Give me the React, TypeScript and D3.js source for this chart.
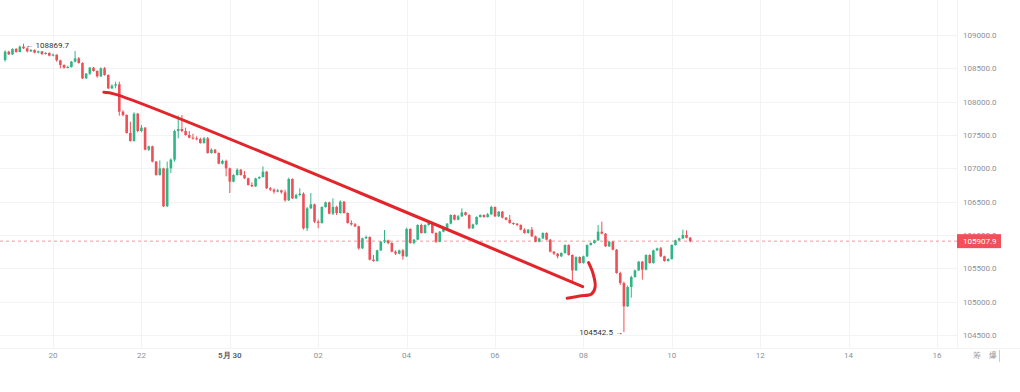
import * as d3 from 'd3';
import React from 'react';

// 5-minute candles, first one at 18:55 on May 29
const startTime = new Date(2025, 4, 29, 18, 55);
const stepMinutes = 5;

const opens = [
  108625, 108750, 108710, 108790, 108745, 108825, 108800, 108755, 108775, 108735, 108755, 108715, 108730, 108690, 108705, 108620,
  108550, 108510, 108520, 108600, 108650, 108580, 108350, 108420, 108510, 108460, 108380, 108500, 108400, 108200, 108240, 108260,
  107850, 107800, 107530, 107410, 107820, 107560, 107610, 107280, 107330, 107100, 106900, 107000, 106430, 107000, 107130, 107560,
  107590, 107560, 107500, 107460, 107450, 107440, 107380, 107450, 107230, 107280, 107230, 107070, 107110, 107000, 106800, 106900,
  106980, 106900, 106850, 106750, 106730, 106850, 106870, 106950, 106700, 106680, 106650, 106670, 106640, 106520, 106840, 106550,
  106600, 106620, 106100, 106400, 106460, 106200, 106180, 106420, 106490, 106320, 106420, 106330, 106500, 106330, 106180, 106160,
  106130, 105800, 105950, 105970, 105630, 105610, 105770, 105900, 105920, 105880, 105750, 105720, 105770, 105680, 106090, 105880,
  105930, 106150, 106030, 106150, 106180, 106030, 105900, 106050, 106100, 106170, 106300, 106230, 106280, 106340, 106300, 106100,
  106160, 106270, 106300, 106270, 106310, 106420, 106280, 106350, 106260, 106230, 106180, 106170, 106150, 106080, 106030, 106080,
  105980, 105900, 105950, 106030, 105930, 105750, 105720, 105680, 105730, 105850, 105700, 105470, 105670, 105580, 105680, 105850,
  105880, 105920, 106050, 106020, 105830, 105900, 105780, 105430, 105280, 104930, 105220, 105370, 105470, 105600, 105480, 105700,
  105580, 105770, 105800, 105680, 105610, 105640, 105850, 105920, 105950, 106000, 105960,
];
const highs = [
  108770, 108765, 108800, 108805, 108840, 108869.7, 108815, 108790, 108785, 108765, 108760, 108745, 108740, 108720, 108710, 108630,
  108560, 108540, 108610, 108760, 108670, 108590, 108430, 108520, 108520, 108470, 108515, 108520, 108410, 108260, 108300, 108300,
  107870, 107810, 107700, 107840, 107830, 107650, 107620, 107340, 107340, 107110, 107120, 107010, 107100, 107150, 107580, 107790,
  107800, 107610, 107560, 107520, 107480, 107460, 107470, 107470, 107300, 107290, 107240, 107130, 107130, 107010, 106910, 107000,
  106990, 106960, 106860, 106790, 106860, 106880, 107030, 106960, 106720, 106700, 106690, 106680, 106680, 106860, 106850, 106620,
  106700, 106640, 106420, 106630, 106470, 106230, 106430, 106500, 106500, 106550, 106440, 106520, 106510, 106340, 106220, 106180,
  106140, 105960, 105990, 105980, 105700, 105780, 105910, 106075, 105930, 105890, 105770, 105780, 105790, 106110, 106100, 105940,
  106160, 106170, 106160, 106200, 106190, 106040, 106060, 106110, 106180, 106310, 106310, 106300, 106400, 106350, 106310, 106170,
  106280, 106310, 106310, 106330, 106440, 106430, 106360, 106360, 106270, 106300, 106190, 106180, 106160, 106100, 106090, 106120,
  105990, 105960, 106040, 106040, 105940, 105760, 105730, 105740, 105860, 105860, 105710, 105680, 105680, 105690, 105860, 105890,
  105930, 106150, 106200, 106030, 105910, 105910, 105790, 105450, 105300, 105240, 105390, 105480, 105610, 105610, 105710, 105710,
  105780, 105810, 105820, 105690, 105650, 105860, 105930, 105960, 106080, 106070, 105970,
];
const lows = [
  108600, 108700, 108700, 108735, 108740, 108790, 108740, 108745, 108725, 108725, 108700, 108705, 108680, 108680, 108600, 108500,
  108495, 108500, 108510, 108590, 108570, 108340, 108340, 108400, 108450, 108360, 108370, 108390, 108190, 108190, 108200, 107790,
  107780, 107520, 107400, 107400, 107540, 107540, 107270, 107260, 107090, 106890, 106890, 106420, 106420, 106930, 107100, 107450,
  107540, 107490, 107450, 107430, 107420, 107370, 107370, 107220, 107220, 107220, 107060, 107060, 106880, 106630, 106790, 106890,
  106890, 106840, 106740, 106720, 106720, 106840, 106860, 106690, 106660, 106620, 106640, 106620, 106500, 106510, 106540, 106540,
  106580, 106080, 106060, 106390, 106180, 106100, 106170, 106410, 106310, 106300, 106300, 106320, 106320, 106170, 106140, 106120,
  105780, 105790, 105940, 105620, 105600, 105600, 105760, 105880, 105860, 105740, 105700, 105710, 105630, 105670, 105870, 105860,
  105920, 106020, 106020, 106140, 106020, 105880, 105890, 106040, 106090, 106160, 106220, 106220, 106270, 106290, 106090, 106090,
  106150, 106260, 106260, 106260, 106300, 106270, 106270, 106250, 106220, 106170, 106150, 106130, 106070, 106020, 106020, 105970,
  105890, 105890, 105940, 105920, 105740, 105700, 105650, 105670, 105720, 105690, 105300, 105460, 105570, 105570, 105670, 105840,
  105870, 105910, 106010, 105820, 105820, 105770, 105420, 105250, 104542.5, 104920, 105060, 105360, 105460, 105330, 105470, 105570,
  105570, 105760, 105670, 105600, 105600, 105630, 105840, 105910, 105940, 105950, 105890,
];
const closes = [
  108750, 108710, 108790, 108745, 108825, 108800, 108755, 108775, 108735, 108755, 108715, 108730, 108690, 108705, 108620, 108550,
  108510, 108520, 108600, 108650, 108580, 108350, 108420, 108510, 108460, 108380, 108500, 108400, 108200, 108240, 108260, 107850,
  107800, 107530, 107410, 107820, 107560, 107610, 107280, 107330, 107100, 106900, 107000, 106430, 107000, 107130, 107560, 107590,
  107560, 107500, 107460, 107450, 107440, 107380, 107450, 107230, 107280, 107230, 107070, 107110, 107000, 106800, 106900, 106980,
  106900, 106850, 106750, 106730, 106850, 106870, 106950, 106700, 106680, 106650, 106670, 106640, 106520, 106840, 106550, 106600,
  106620, 106100, 106400, 106460, 106200, 106180, 106420, 106490, 106320, 106420, 106330, 106500, 106330, 106180, 106160, 106130,
  105800, 105950, 105970, 105630, 105610, 105770, 105900, 105920, 105880, 105750, 105720, 105770, 105680, 106090, 105880, 105930,
  106150, 106030, 106150, 106180, 106030, 105900, 106050, 106100, 106170, 106300, 106230, 106280, 106340, 106300, 106100, 106160,
  106270, 106300, 106270, 106310, 106420, 106280, 106350, 106260, 106230, 106180, 106170, 106150, 106080, 106030, 106080, 105980,
  105900, 105950, 106030, 105930, 105750, 105720, 105680, 105730, 105850, 105700, 105470, 105670, 105580, 105680, 105850, 105880,
  105920, 106050, 106020, 105830, 105900, 105780, 105430, 105280, 104930, 105220, 105370, 105470, 105600, 105480, 105700, 105580,
  105770, 105800, 105680, 105610, 105640, 105850, 105920, 105950, 106000, 105960, 105907.9,
];

const priceTicks = [104500, 105000, 105500, 106000, 106500, 107000, 107500, 108000, 108500, 109000];
const lastPrice = 105907.9;
const maxMark = { index: 5, price: 108869.7 };
const minMark = { index: 168, price: 104542.5 };

// hand drawn annotation, [time, price]
const trendLine: [Date, number][] = [
  [new Date(2025, 4, 29, 21, 9), 108140],
  [new Date(2025, 4, 29, 21, 25), 108110],
  [new Date(2025, 4, 30, 7, 59), 105225],
];
const hookLine: [Date, number][] = [
  [new Date(2025, 4, 30, 8, 7), 105585],
  [new Date(2025, 4, 30, 8, 13), 105425],
  [new Date(2025, 4, 30, 8, 16), 105225],
  [new Date(2025, 4, 30, 8, 11), 105115],
  [new Date(2025, 4, 30, 7, 55), 105085],
  [new Date(2025, 4, 30, 7, 38), 105050],
];

const W = 1020;
const H = 392;
const plotRight = 957;
const plotBottom = 348;
const UP = '#30b585';
const DOWN = '#ef4f57';
const FONT = 'Roboto, "Noto Sans", sans-serif';
const FS = 8;

export default function App() {
  const x = d3.scaleTime()
    .domain([new Date(2025, 4, 29, 20), new Date(2025, 4, 30, 16)])
    .range([53, 937]);
  const y = d3.scaleLinear().domain([104500, 109000]).range([335, 35]);

  const timeOf = (i: number) => new Date(startTime.getTime() + i * stepMinutes * 60000);
  const candles = closes.map((c, i) => ({
    t: timeOf(i), o: opens[i], h: highs[i], l: lows[i], c,
  }));
  const bodyW = 2.6;

  const timeTicks = x.ticks(d3.timeHour.every(2)!);
  const fmtTick = (d: Date) =>
    d.getHours() === 0 ? `${d.getMonth() + 1}月 ${d.getDate()}` : d3.timeFormat('%H')(d);

  const line = d3.line<[Date, number]>()
    .x((d) => x(d[0]))
    .y((d) => y(d[1]))
    .curve(d3.curveCatmullRom);

  const lastY = y(lastPrice);
  const maxX = x(timeOf(maxMark.index));
  const minX = x(timeOf(minMark.index));

  return (
    <svg width={W} height={H} style={{ position: 'absolute', left: 0, top: 0, background: '#fff' }}
      fontFamily={FONT}>
      <defs>
        <clipPath id="aboveTag">
          <rect x={plotRight} y={0} width={W - plotRight} height={lastY - 7} />
        </clipPath>
      </defs>
      {/* grid */}
      <g stroke="#f2f3f5" strokeWidth={1}>
        {priceTicks.map((p) => (
          <line key={p} x1={0} x2={plotRight} y1={Math.round(y(p)) + 0.5} y2={Math.round(y(p)) + 0.5} />
        ))}
        {timeTicks.map((t) => (
          <line key={+t} x1={Math.round(x(t)) + 0.5} x2={Math.round(x(t)) + 0.5} y1={0} y2={plotBottom} />
        ))}
        <line x1={plotRight + 0.5} x2={plotRight + 0.5} y1={0} y2={plotBottom} />
        <line x1={0} x2={W} y1={plotBottom + 0.5} y2={plotBottom + 0.5} />
      </g>

      {/* last price dashed line */}
      <line x1={0} x2={plotRight} y1={lastY} y2={lastY} stroke="#f19aa0" strokeDasharray="3,3" strokeWidth={1} />

      {/* candles */}
      <g>
        {candles.map((d, i) => {
          const cx = x(d.t);
          const up = d.c >= d.o;
          const col = up ? UP : DOWN;
          const top = y(Math.max(d.o, d.c));
          const bot = y(Math.min(d.o, d.c));
          return (
            <g key={i}>
              <line x1={cx} x2={cx} y1={y(d.h)} y2={y(d.l)} stroke={col} strokeWidth={1} />
              <rect x={cx - bodyW / 2} y={top} width={bodyW} height={Math.max(1, bot - top)} fill={col} />
            </g>
          );
        })}
      </g>

      {/* annotations */}
      <path d={line(trendLine) ?? ''} fill="none" stroke="#e3252b" strokeWidth={3} strokeLinecap="round" />
      <path d={line(hookLine) ?? ''} fill="none" stroke="#e3252b" strokeWidth={3} strokeLinecap="round" />

      {/* max / min labels */}
      <text x={maxX + 2} y={y(maxMark.price) + 4} fontSize={FS} fill="#333">{'← ' + maxMark.price.toFixed(1)}</text>
      <text x={minX - 1} y={y(minMark.price) + 3} fontSize={FS} fill="#333" textAnchor="end">{minMark.price.toFixed(1) + ' →'}</text>

      {/* price axis */}
      <g fontSize={FS} fill="#8b9099">
        {priceTicks.map((p) => {
          const hidden = Math.abs(y(p) - lastY) <= 10;
          return (
            <text key={p} x={963} y={y(p) + 3} clipPath={hidden ? 'url(#aboveTag)' : undefined}>{p.toFixed(1)}</text>
          );
        })}
      </g>
      <rect x={plotRight} y={lastY - 7} width={44} height={14} fill="#ef505a" />
      <text x={963} y={lastY + 3} fontSize={FS} fill="#fff">{lastPrice.toFixed(1)}</text>

      {/* time axis */}
      <g fontSize={FS} fill="#8b9099" textAnchor="middle">
        {timeTicks.map((t) => (
          <text key={+t} x={x(t)} y={358} fill={t.getHours() === 0 ? '#555b66' : '#8b9099'}
            fontWeight={t.getHours() === 0 ? 600 : 400}>{fmtTick(t)}</text>
        ))}
      </g>
      <text x={977} y={358} fontSize={FS} fill="#8b9099" textAnchor="middle">筹</text>
      <text x={993} y={358} fontSize={FS} fill="#8b9099" textAnchor="middle">爆</text>
      <rect x={999} y={350} width={1} height={12} fill="#c8ccd2" />
    </svg>
  );
}
